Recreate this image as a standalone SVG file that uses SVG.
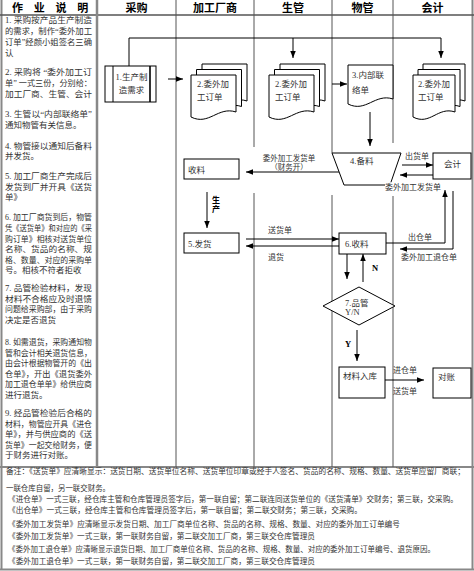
<svg xmlns="http://www.w3.org/2000/svg" width="474" height="571" viewBox="0 0 474 571">
<style>
.bg{fill:#fff}
.fr{stroke:#888;stroke-width:2;fill:none}
.tl{stroke:#555;stroke-width:1;fill:none}
.sh{fill:#fff;stroke:#000;stroke-width:1}
.cn{fill:none;stroke:#000;stroke-width:1;marker-end:url(#ah)}
.ln{fill:none;stroke:#000;stroke-width:1}
text{font-family:"Liberation Serif","Noto Sans CJK SC",serif}
.h{font-size:11px;font-weight:bold;fill:#000}
.d{font-size:8.5px;fill:#333}
.t{font-size:8.5px;fill:#333}
.l{font-size:8px;fill:#333}
.b{font-size:8.5px;font-weight:bold;fill:#000}
.n{font-size:7.8px;fill:#333}
</style>
<defs>
<marker id="ah" markerUnits="userSpaceOnUse" markerWidth="7" markerHeight="6" refX="7" refY="2.75" orient="auto">
<path d="M0,0 L7,2.75 L0,5.5 z" fill="#000"/>
</marker>
</defs>
<rect class="bg" x="0" y="0" width="474" height="571"/>

<g id="table">
<line class="fr" x1="1.5" y1="0" x2="1.5" y2="570"/>
<line class="fr" x1="472.5" y1="0" x2="472.5" y2="570"/>
<line class="fr" x1="0" y1="569.5" x2="474" y2="569.5"/>
<line class="fr" x1="0" y1="467" x2="474" y2="467"/>
<line class="tl" x1="0" y1="15" x2="474" y2="15" style="stroke-width:1.3"/>
<line class="fr" x1="97" y1="0" x2="97" y2="467" style="stroke-width:2.5"/>
<line class="tl" x1="176" y1="0" x2="176" y2="467"/>
<line class="tl" x1="254" y1="0" x2="254" y2="147"/>
<line class="tl" x1="254" y1="193" x2="254" y2="467"/>
<line class="tl" x1="332" y1="0" x2="332" y2="153"/>
<line class="tl" x1="332" y1="195" x2="332" y2="467"/>
<line class="tl" x1="393" y1="0" x2="393" y2="143"/>
<line class="tl" x1="393" y1="196" x2="393" y2="467"/>
<text class="h" x="12" y="12" letter-spacing="4">作 业 说 明</text>
<text class="h" x="136.5" y="12" text-anchor="middle">采购</text>
<text class="h" x="215" y="12" text-anchor="middle">加工厂商</text>
<text class="h" x="293" y="12" text-anchor="middle">生管</text>
<text class="h" x="362.5" y="12" text-anchor="middle">物管</text>
<text class="h" x="432.5" y="12" text-anchor="middle">会计</text>
</g>

<g id="description">
<text class="d" x="5" y="23" textLength="87" lengthAdjust="spacingAndGlyphs">1. 采购按产品生产制造</text>
<text class="d" x="5" y="34" textLength="87" lengthAdjust="spacingAndGlyphs">的需求，制作“委外加工</text>
<text class="d" x="5" y="45" textLength="87" lengthAdjust="spacingAndGlyphs">订单”经颜小姐签名三确</text>
<text class="d" x="5" y="55.5">认</text>
<text class="d" x="5" y="75" textLength="87" lengthAdjust="spacingAndGlyphs">2. 采购将 “委外加工订</text>
<text class="d" x="5" y="86" textLength="87" lengthAdjust="spacingAndGlyphs">单” 一式三份，分别给：</text>
<text class="d" x="5" y="96.5" textLength="87" lengthAdjust="spacingAndGlyphs">加工厂商、生管、会计</text>
<text class="d" x="5" y="117" textLength="87" lengthAdjust="spacingAndGlyphs">3. 生管以“内部联络单”</text>
<text class="d" x="5" y="127.5">通知物管有关信息。</text>
<text class="d" x="5" y="148.5" textLength="87" lengthAdjust="spacingAndGlyphs">4. 物管接以通知后备料</text>
<text class="d" x="5" y="158.5">并发货。</text>
<text class="d" x="5" y="179" textLength="87" lengthAdjust="spacingAndGlyphs">5. 加工厂商生产完成后</text>
<text class="d" x="5" y="189.5" textLength="87" lengthAdjust="spacingAndGlyphs">发货到厂并开具《送货</text>
<text class="d" x="5" y="199.5">单》</text>
<text class="d" x="5" y="220" textLength="87" lengthAdjust="spacingAndGlyphs">6. 加工厂商货到后，物管</text>
<text class="d" x="5" y="231" textLength="87" lengthAdjust="spacingAndGlyphs">凭《送货单》和对应的《采</text>
<text class="d" x="5" y="241.5" textLength="87" lengthAdjust="spacingAndGlyphs">购订单》相核对送货单位</text>
<text class="d" x="5" y="252" textLength="87" lengthAdjust="spacingAndGlyphs">名称、货品的名称、规</text>
<text class="d" x="5" y="262.5" textLength="87" lengthAdjust="spacingAndGlyphs">格、数量、对应的采购单</text>
<text class="d" x="5" y="273">号。相核不符者拒收</text>
<text class="d" x="5" y="290.5" textLength="87" lengthAdjust="spacingAndGlyphs">7.  品管检验材料，发现</text>
<text class="d" x="5" y="301.5" textLength="87" lengthAdjust="spacingAndGlyphs">材料不合格应及时退馈</text>
<text class="d" x="5" y="312" textLength="87" lengthAdjust="spacingAndGlyphs">问题给采购部，由于采购</text>
<text class="d" x="5" y="322.5">决定是否退货</text>
<text class="d" x="5" y="345" textLength="87" lengthAdjust="spacingAndGlyphs">8. 如需退货，采购通知物</text>
<text class="d" x="5" y="355.5" textLength="87" lengthAdjust="spacingAndGlyphs">管和会计相关退货信息，</text>
<text class="d" x="5" y="366" textLength="87" lengthAdjust="spacingAndGlyphs">由会计根据物管开的《出</text>
<text class="d" x="5" y="376.5" textLength="87" lengthAdjust="spacingAndGlyphs">仓单》，开出《退货委外</text>
<text class="d" x="5" y="387" textLength="87" lengthAdjust="spacingAndGlyphs">加工退仓单单》给供应商</text>
<text class="d" x="5" y="397.5">进行退货。</text>
<text class="d" x="5" y="416" textLength="87" lengthAdjust="spacingAndGlyphs">9.  经品管检验后合格的</text>
<text class="d" x="5" y="426.5" textLength="87" lengthAdjust="spacingAndGlyphs">材料，物管应开具《进仓</text>
<text class="d" x="5" y="437" textLength="87" lengthAdjust="spacingAndGlyphs">单》，并与供应商的《送</text>
<text class="d" x="5" y="447.5" textLength="87" lengthAdjust="spacingAndGlyphs">货单》一起交给财务，便</text>
<text class="d" x="5" y="458">于财务进行对账。</text>
</g>

<g id="notes">
<text class="n" x="6" y="474" textLength="459" lengthAdjust="spacingAndGlyphs">备注：《送货单》应清晰显示：送货日期、送货单位名称、送货单位印章或经手人签名、货品的名称、规格、数量、送货单应留厂商联；</text>
<text class="n" x="6" y="491" textLength="104" lengthAdjust="spacingAndGlyphs">一联仓库自留，另一联交财务。</text>
<text class="n" x="8" y="502" textLength="450" lengthAdjust="spacingAndGlyphs">《进仓单》一式三联，经仓库主管和仓库管理员签字后，第一联自留；第二联连同送货单位的《送货清单》交财务；第三联，交采购。</text>
<text class="n" x="8" y="512.5" textLength="354" lengthAdjust="spacingAndGlyphs">《出仓单》一式三联，经仓库主管和仓库管理员签字后，第一联自留；第二联交财务；第三联，交采购。</text>
<text class="n" x="8" y="527" textLength="392" lengthAdjust="spacingAndGlyphs">《委外加工发货单》应清晰显示发货日期、加工厂商单位名称、货品的名称、规格、数量、对应的委外加工订单编号</text>
<text class="n" x="8" y="539" textLength="307" lengthAdjust="spacingAndGlyphs">《委外加工发货单》一式三联，第一联财务自留，第二联交加工厂商，第三联交仓库管理员</text>
<text class="n" x="8" y="551.5" textLength="427" lengthAdjust="spacingAndGlyphs">《委外加工退仓单》应清晰显示退货日期、加工厂商单位名称、货品的名称、规格、数量、对应的委外加工订单编号、退货原因。</text>
<text class="n" x="8" y="563.5" textLength="307" lengthAdjust="spacingAndGlyphs">《委外加工退仓单》一式三联，第一联财务自留，第二联交加工厂商，第三联交仓库管理员</text>
</g>

<g id="connectors">
<path class="cn" d="M129,66 V38 H441 V58"/>
<path class="cn" d="M293,38 V58"/>
<path class="cn" d="M168,79 H183"/>
<path class="cn" d="M332,84 H347"/>
<path class="cn" d="M370,112 V146"/>
<path class="cn" d="M339,172 H246"/>
<path class="cn" d="M207,192 V228"/>
<path class="cn" d="M246,239 H339"/>
<path class="cn" d="M339,246 H246"/>
<path class="cn" d="M402,165 H433"/>
<path class="cn" d="M433,175 H400"/>
<path class="cn" d="M386,243 H445 V190"/>
<path class="cn" d="M453,191 V249 H400"/>
<path class="cn" d="M347,254 V279"/>
<path class="cn" d="M363,282 V254"/>
<path class="cn" d="M357,330 V361"/>
<path class="cn" d="M385,380 H424"/>
<text class="l" x="289" y="160.5" text-anchor="middle" style="font-size:7.5px">委外加工发货单</text>
<text class="l" x="289" y="169.5" text-anchor="middle" style="font-size:7.5px">（财务开）</text>
<text class="b" x="216" y="203" text-anchor="middle" style="font-size:8px">生</text>
<text class="b" x="216" y="212" text-anchor="middle" style="font-size:8px">产</text>
<text class="l" x="280" y="233" text-anchor="middle">送货单</text>
<text class="l" x="268" y="260">退货</text>
<text class="l" x="405" y="159">出货单</text>
<text class="l" x="408" y="240">出仓单</text>
<text class="l" x="401" y="260">委外加工退仓单</text>
<text class="b" x="372" y="271">N</text>
<text class="b" x="345" y="347">Y</text>
<text class="l" x="393" y="373">进仓单</text>
<text class="l" x="393" y="394">送货单</text>
</g>

<g id="n1">
<rect class="sh" x="105" y="66" width="51" height="36"/>
<line class="ln" x1="113" y1="66" x2="113" y2="102"/>
<line class="ln" x1="150" y1="66" x2="150" y2="102" style="stroke-width:1.6"/>
<text class="t" x="131.5" y="80" text-anchor="middle">1.生产制</text>
<text class="t" x="131.5" y="93" text-anchor="middle">造需求</text>
</g>

<g id="n2a">
<path class="sh" d="M202,64 H247 V101 C229,95 220,115 202,106 Z"/>
<path class="sh" d="M196.5,69.5 H241.5 V106.5 C223.5,100.5 214.5,120.5 196.5,111.5 Z"/>
<path class="sh" d="M191,75 H236 V112 C218,106 209,126 191,117 Z"/>
<text class="t" x="197" y="86.5">2.委外加</text>
<text class="t" x="197" y="100">工订单</text>
</g>

<g id="n2b">
<path class="sh" d="M280,64 H325 V101 C307,95 298,115 280,106 Z"/>
<path class="sh" d="M274.5,69.5 H319.5 V106.5 C301.5,100.5 292.5,120.5 274.5,111.5 Z"/>
<path class="sh" d="M269,75 H314 V112 C296,106 287,126 269,117 Z"/>
<text class="t" x="275" y="86.5">2.委外加</text>
<text class="t" x="275" y="100">工订单</text>
</g>

<g id="n2c">
<path class="sh" d="M423,64 H465 V101 C448,95 440,115 423,106 Z"/>
<path class="sh" d="M418,69.5 H460 V106.5 C443,100.5 435,120.5 418,111.5 Z"/>
<path class="sh" d="M413,75 H455 V112 C438,106 430,126 413,117 Z"/>
<text class="t" x="418" y="86.5">2.委外加</text>
<text class="t" x="418" y="100">工订单</text>
</g>

<g id="n3">
<path class="sh" d="M348,65 H393 V99 C375,93 366,113 348,104 Z"/>
<text class="t" x="352" y="78">3.内部联</text>
<text class="t" x="352" y="93">络单</text>
</g>

<g id="n4">
<path class="sh" d="M332,153 H401 L390,185 H344 Z"/>
<text class="t" x="350" y="164">4.备料</text>
<rect x="385" y="182" width="57" height="10" fill="#fff"/>
<text class="l" x="385" y="190">委外加工发货单</text>
</g>

<g id="n_acct">
<rect class="sh" x="433" y="153" width="38" height="26"/>
<text class="t" x="444" y="167">会计</text>
</g>

<g id="n_recv">
<rect class="sh" x="184" y="159" width="55" height="20"/>
<text class="t" x="188" y="172.5">收料</text>
</g>

<g id="n5">
<rect class="sh" x="184" y="233" width="55" height="20"/>
<text class="t" x="188" y="246.5">5.发货</text>
</g>

<g id="n6">
<rect class="sh" x="339" y="233" width="47" height="21"/>
<text class="t" x="345" y="247">6.收料</text>
</g>

<g id="n7">
<path class="sh" d="M359,287 L395,306 L359,325 L323,306 Z"/>
<text class="t" x="345" y="306">7.品管</text>
<text class="t" x="345" y="315">Y/N</text>
</g>

<g id="n_stock">
<rect class="sh" x="339" y="367" width="46" height="31"/>
<text class="t" x="343" y="379">材料入库</text>
</g>

<g id="n_check">
<rect class="sh" x="433" y="368" width="38" height="30"/>
<text class="t" x="438" y="380">对账</text>
</g>
</svg>
